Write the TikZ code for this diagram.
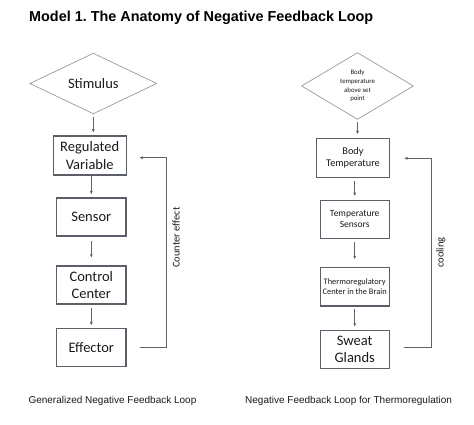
\documentclass[tikz,border=0pt]{standalone}
\usepackage{fontspec}
\setmainfont{Liberation Sans}
\newfontfamily\calfont{Carlito}
\usetikzlibrary{shapes.geometric,arrows.meta}
\definecolor{boxc}{HTML}{5B6068}
\definecolor{arrc}{HTML}{5F646C}
\definecolor{diac}{HTML}{9A9A9A}
\definecolor{txtc}{HTML}{1A1A1A}
\frenchspacing
\begin{document}
\begin{tikzpicture}[x=1pt,y=-1pt,
  box/.style={draw=boxc, line width=1.1pt, inner sep=0pt, align=center, text=txtc},
  dia/.style={draw=diac, line width=0.7pt, shape=diamond, inner sep=0pt, align=center, text=txtc},
  arr/.style={draw=arrc, line width=1pt, -{Latex[length=3.5pt,width=3pt]}},
  lbl/.style={text=txtc, inner sep=0pt},
  big/.style={font=\calfont\fontsize{14.5}{17.4}\selectfont},
]
\useasboundingbox (0,0) rectangle (474,425);
% title
\node[lbl, text=black, anchor=base west, font=\bfseries\fontsize{14.4}{17}\selectfont] (title) at (29,22) {Model 1. The Anatomy of Negative Feedback Loop};

% left diagram
\node[dia, big, minimum width=127pt, minimum height=57pt] (stim) at (93.3,83.5) {Stimulus};
\node[box, big, minimum width=72.7pt, minimum height=39pt] (rv) at (89.7,155.5) {Regulated\\Variable};
\node[box, big, minimum width=69.3pt, minimum height=38pt] (sens) at (91.3,217) {Sensor};
\node[box, big, minimum width=69.3pt, minimum height=38pt] (cc) at (91.3,285) {Control\\Center};
\node[box, big, minimum width=69.3pt, minimum height=38.4pt] (eff) at (91.3,347.5) {Effector};

\draw[arr, shorten <=3pt, shorten >=2.7pt] (stim.south) -- (stim.south |- rv.north);
\draw[arr, shorten <=0.5pt, shorten >=3pt] (rv.south -| sens.north) -- (sens.north);
\draw[arr, shorten <=4.7pt, shorten >=7.7pt] (sens.south) -- (cc.north);
\draw[arr, shorten <=3.3pt, shorten >=2.3pt] (cc.south) -- (eff.north);

\coordinate (fa) at ([xshift=13.3pt]eff.east);
\coordinate (fb) at (139.3,157.7);
\draw[arr] (fa) -- ++(26.4,0) |- (fb);
\node[lbl, rotate=90, font=\calfont\fontsize{10.4}{12}\selectfont] (ce) at (176,237.4) {Counter effect};

\node[lbl, anchor=base west, font=\fontsize{10}{12}\selectfont] (cap1) at (28.3,403) {Generalized Negative Feedback Loop};

% right diagram
\node[dia, font=\calfont\fontsize{6.8}{8.7}\selectfont, minimum width=112pt, minimum height=58pt] (dia) at (357.5,86) {Body\\temperature\\above set\\point};
\node[box, font=\calfont\fontsize{10.3}{12.4}\selectfont, minimum width=72.6pt, minimum height=39pt] (bt) at (353,157.8) {Body\\Temperature};
\node[box, font=\calfont\fontsize{9.5}{11.2}\selectfont, minimum width=69.3pt, minimum height=38.3pt] (ts) at (354.7,219.2) {Temperature\\Sensors};
\node[box, font=\calfont\fontsize{8.4}{10}\selectfont, minimum width=69.3pt, minimum height=38.3pt] (th) at (354.7,286.8) {Thermoregulatory\\Center in the Brain};
\node[box, big, minimum width=69.3pt, minimum height=37.6pt] (sg) at (354.7,349.5) {Sweat\\Glands};

\draw[arr, shorten <=2pt, shorten >=3.3pt] (dia.south) -- (dia.south |- bt.north);
\draw[arr, shorten <=2.7pt, shorten >=3.3pt] (bt.south -| ts.north) -- (ts.north);
\draw[arr, shorten <=3.4pt, shorten >=7.7pt] (ts.south) -- (th.north);
\draw[arr, shorten <=2pt, shorten >=3.4pt] (th.south) -- (sg.north);

\coordinate (ga) at (404,347.3);
\coordinate (gb) at (404,158.3);
\draw[arr] (ga) -- (431.5,347.3) |- (gb);
\node[lbl, rotate=90, font=\calfont\fontsize{10.5}{12}\selectfont] (cool) at (441,252.5) {cooling};

\node[lbl, anchor=base west, font=\fontsize{10}{12}\selectfont] (cap2) at (245,403) {Negative Feedback Loop for Thermoregulation};
\end{tikzpicture}
\end{document}
